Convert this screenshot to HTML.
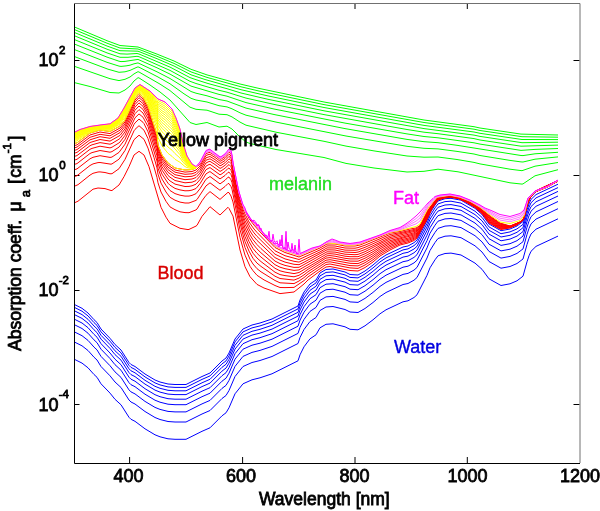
<!DOCTYPE html>
<html><head><meta charset="utf-8"><style>
html,body{margin:0;padding:0;background:#fff;}
body{width:600px;height:511px;overflow:hidden;position:relative;font-family:"Liberation Sans",sans-serif;}
svg{position:absolute;left:0;top:0;}
.t{position:absolute;white-space:nowrap;line-height:1;font-size:17px;color:#000;}
</style></head><body>
<svg width="600" height="511" viewBox="0 0 600 511">
<g fill="none" stroke="#000" stroke-width="1">
<path d="M129.6 463 v-6 M242.6 463 v-6 M355 463 v-6 M467.3 463 v-6 M129.6 3.5 v5.5 M242.6 3.5 v5.5 M355 3.5 v5.5 M467.3 3.5 v5.5"/>
<path d="M74 60.5 h5.5 M74 175.5 h5.5 M74 290.5 h5.5 M74 404.5 h5.5 M579.5 60.5 h-6 M579.5 175.5 h-6 M579.5 290.5 h-6 M579.5 404.5 h-6"/>
</g>
<g fill="none" stroke-width="1" stroke-linejoin="round">
<polyline points="74.0,359.1 82.0,363.1 88.0,367.8 94.0,374.5 97.0,377.3 101.0,383.8 110.0,393.1 115.0,399.3 121.0,404.8 129.0,417.3 131.0,419.3 135.0,421.3 145.0,428.8 155.0,434.8 160.0,436.8 168.0,438.8 175.0,439.3 186.0,439.3 202.0,431.3 210.0,427.8 222.0,415.8 226.0,412.8 229.0,407.8 235.0,393.8 243.0,383.8 252.0,379.8 260.0,377.8 272.0,373.8 298.0,360.8 300.0,354.8 304.0,346.8 310.0,338.8 316.0,334.8 320.0,327.8 326.0,324.3 333.0,323.8 345.0,326.8 350.0,329.3 358.0,329.8 365.0,325.8 373.0,319.8 380.0,313.8 386.0,309.8 403.0,301.8 408.0,300.8 414.0,297.5 417.0,294.8 427.0,275.3 430.0,267.8 435.0,259.8 438.0,255.8 445.0,253.5 451.0,253.1 461.0,255.0 475.0,263.1 482.0,269.3 489.0,278.8 501.0,285.5 510.0,283.8 517.0,280.8 523.0,276.2 527.0,261.8 529.0,255.8 531.0,251.3 536.0,246.4 558.0,236.1" stroke="#0000ff"/>
<polyline points="74.0,341.8 82.0,345.8 88.0,350.5 94.0,357.2 97.0,360.0 101.0,366.5 110.0,375.8 115.0,382.0 121.0,387.5 129.0,400.0 131.0,402.0 135.0,404.0 145.0,411.5 155.0,417.5 160.0,419.5 168.0,421.5 175.0,422.0 186.0,422.0 202.0,414.0 210.0,410.5 222.0,398.5 226.0,395.5 229.0,390.5 235.0,376.5 243.0,366.5 252.0,362.5 260.0,360.5 272.0,356.5 298.0,343.5 300.0,337.5 304.0,329.5 310.0,321.5 316.0,317.5 320.0,310.5 326.0,307.0 333.0,306.5 345.0,309.5 350.0,312.0 358.0,312.5 365.0,308.5 373.0,302.5 380.0,296.5 386.0,292.5 403.0,284.5 408.0,283.5 414.0,280.2 417.0,277.5 427.0,258.0 430.0,250.5 435.0,242.5 438.0,238.5 445.0,236.2 451.0,235.8 461.0,237.7 475.0,245.8 482.0,252.0 489.0,261.5 501.0,268.2 510.0,266.5 517.0,263.5 523.0,259.0 527.0,244.5 529.0,238.5 531.0,234.0 536.0,229.2 558.0,218.8" stroke="#0000ff"/>
<polyline points="74.0,331.7 82.0,335.7 88.0,340.4 94.0,347.1 97.0,349.9 101.0,356.4 110.0,365.7 115.0,371.9 121.0,377.4 129.0,389.9 131.0,391.9 135.0,393.9 145.0,401.4 155.0,407.4 160.0,409.4 168.0,411.4 175.0,411.9 186.0,411.9 202.0,403.9 210.0,400.4 222.0,388.4 226.0,385.4 229.0,380.4 235.0,366.4 243.0,356.4 252.0,352.4 260.0,350.4 272.0,346.4 298.0,333.4 300.0,327.4 304.0,319.4 310.0,311.4 316.0,307.4 320.0,300.4 326.0,296.9 333.0,296.4 345.0,299.4 350.0,301.9 358.0,302.4 365.0,298.4 373.0,292.4 380.0,286.4 386.0,282.4 403.0,274.4 408.0,273.4 414.0,270.1 417.0,267.4 427.0,247.9 430.0,240.4 435.0,232.4 438.0,228.4 445.0,226.1 451.0,225.7 461.0,227.6 475.0,235.7 482.0,241.9 489.0,251.4 501.0,258.1 510.0,256.4 517.0,253.4 523.0,248.9 527.0,234.4 529.0,228.4 531.0,223.9 536.0,219.1 558.0,208.7" stroke="#0000ff"/>
<polyline points="74.0,324.5 82.0,328.5 88.0,333.2 94.0,339.9 97.0,342.7 101.0,349.2 110.0,358.5 115.0,364.7 121.0,370.2 129.0,382.7 131.0,384.7 135.0,386.7 145.0,394.2 155.0,400.2 160.0,402.2 168.0,404.2 175.0,404.7 186.0,404.7 202.0,396.7 210.0,393.2 222.0,381.2 226.0,378.2 229.0,373.2 235.0,359.2 243.0,349.2 252.0,345.2 260.0,343.2 272.0,339.2 298.0,326.2 300.0,320.2 304.0,312.2 310.0,304.2 316.0,300.2 320.0,293.2 326.0,289.7 333.0,289.2 345.0,292.2 350.0,294.7 358.0,295.2 365.0,291.2 373.0,285.2 380.0,279.2 386.0,275.2 403.0,267.2 408.0,266.2 414.0,262.9 417.0,260.2 427.0,240.7 430.0,233.2 435.0,225.2 438.0,221.2 445.0,218.9 451.0,218.5 461.0,220.4 475.0,228.5 482.0,234.7 489.0,244.2 501.0,250.9 510.0,249.2 517.0,246.2 523.0,241.7 527.0,227.2 529.0,221.2 531.0,216.7 536.0,211.9 558.0,201.5" stroke="#0000ff"/>
<polyline points="74.0,319.0 82.0,323.0 88.0,327.7 94.0,334.4 97.0,337.2 101.0,343.7 110.0,353.0 115.0,359.2 121.0,364.7 129.0,377.2 131.0,379.2 135.0,381.2 145.0,388.7 155.0,394.7 160.0,396.7 168.0,398.7 175.0,399.2 186.0,399.2 202.0,391.2 210.0,387.7 222.0,375.7 226.0,372.7 229.0,367.7 235.0,353.7 243.0,343.7 252.0,339.7 260.0,337.7 272.0,333.7 298.0,320.7 300.0,314.7 304.0,306.7 310.0,298.7 316.0,294.7 320.0,287.7 326.0,284.2 333.0,283.7 345.0,286.7 350.0,289.2 358.0,289.7 365.0,285.7 373.0,279.7 380.0,273.7 386.0,269.7 403.0,261.7 408.0,260.7 414.0,257.4 417.0,254.7 427.0,235.2 430.0,227.7 435.0,219.7 438.0,215.7 445.0,213.4 451.0,213.0 461.0,214.9 475.0,223.0 482.0,229.2 489.0,238.7 501.0,245.4 510.0,243.7 517.0,240.7 523.0,236.1 527.0,221.7 529.0,215.7 531.0,211.2 536.0,206.3 558.0,196.0" stroke="#0000ff"/>
<polyline points="74.0,314.4 82.0,318.4 88.0,323.1 94.0,329.8 97.0,332.6 101.0,339.1 110.0,348.4 115.0,354.6 121.0,360.1 129.0,372.6 131.0,374.6 135.0,376.6 145.0,384.1 155.0,390.1 160.0,392.1 168.0,394.1 175.0,394.6 186.0,394.6 202.0,386.6 210.0,383.1 222.0,371.1 226.0,368.1 229.0,363.1 235.0,349.1 243.0,339.1 252.0,335.1 260.0,333.1 272.0,329.1 298.0,316.1 300.0,310.1 304.0,302.1 310.0,294.1 316.0,290.1 320.0,283.1 326.0,279.6 333.0,279.1 345.0,282.1 350.0,284.6 358.0,285.1 365.0,281.1 373.0,275.1 380.0,269.1 386.0,265.1 403.0,257.1 408.0,256.1 414.0,252.8 417.0,250.1 427.0,230.6 430.0,223.1 435.0,215.1 438.0,211.1 445.0,208.8 451.0,208.4 461.0,210.3 475.0,218.4 482.0,224.6 489.0,234.1 501.0,240.8 510.0,239.1 517.0,236.1 523.0,231.6 527.0,217.1 529.0,211.1 531.0,206.6 536.0,201.8 558.0,191.4" stroke="#0000ff"/>
<polyline points="74.0,310.6 82.0,314.6 88.0,319.3 94.0,326.0 97.0,328.8 101.0,335.3 110.0,344.6 115.0,350.8 121.0,356.3 129.0,368.8 131.0,370.8 135.0,372.8 145.0,380.3 155.0,386.3 160.0,388.3 168.0,390.3 175.0,390.8 186.0,390.8 202.0,382.8 210.0,379.3 222.0,367.3 226.0,364.3 229.0,359.3 235.0,345.3 243.0,335.3 252.0,331.3 260.0,329.3 272.0,325.3 298.0,312.3 300.0,306.3 304.0,298.3 310.0,290.3 316.0,286.3 320.0,279.3 326.0,275.8 333.0,275.3 345.0,278.3 350.0,280.8 358.0,281.3 365.0,277.3 373.0,271.3 380.0,265.3 386.0,261.3 403.0,253.3 408.0,252.3 414.0,249.0 417.0,246.3 427.0,226.8 430.0,219.3 435.0,211.3 438.0,207.3 445.0,205.0 451.0,204.6 461.0,206.5 475.0,214.6 482.0,220.8 489.0,230.3 501.0,237.0 510.0,235.3 517.0,232.3 523.0,227.7 527.0,213.3 529.0,207.3 531.0,202.8 536.0,197.9 558.0,187.6" stroke="#0000ff"/>
<polyline points="74.0,307.2 82.0,311.2 88.0,315.9 94.0,322.6 97.0,325.4 101.0,331.9 110.0,341.2 115.0,347.4 121.0,352.9 129.0,365.4 131.0,367.4 135.0,369.4 145.0,376.9 155.0,382.9 160.0,384.9 168.0,386.9 175.0,387.4 186.0,387.4 202.0,379.4 210.0,375.9 222.0,363.9 226.0,360.9 229.0,355.9 235.0,341.9 243.0,331.9 252.0,327.9 260.0,325.9 272.0,321.9 298.0,308.9 300.0,302.9 304.0,294.9 310.0,286.9 316.0,282.9 320.0,275.9 326.0,272.4 333.0,271.9 345.0,274.9 350.0,277.4 358.0,277.9 365.0,273.9 373.0,267.9 380.0,261.9 386.0,257.9 403.0,249.9 408.0,248.9 414.0,245.6 417.0,242.9 427.0,223.4 430.0,215.9 435.0,207.9 438.0,203.9 445.0,201.6 451.0,201.2 461.0,203.1 475.0,211.2 482.0,217.4 489.0,226.9 501.0,233.7 510.0,231.9 517.0,228.9 523.0,224.4 527.0,209.9 529.0,203.9 531.0,199.4 536.0,194.6 558.0,184.2" stroke="#0000ff"/>
<polyline points="74.0,304.3 82.0,308.3 88.0,313.0 94.0,319.7 97.0,322.5 101.0,329.0 110.0,338.3 115.0,344.5 121.0,350.0 129.0,362.5 131.0,364.5 135.0,366.5 145.0,374.0 155.0,380.0 160.0,382.0 168.0,384.0 175.0,384.5 186.0,384.5 202.0,376.5 210.0,373.0 222.0,361.0 226.0,358.0 229.0,353.0 235.0,339.0 243.0,329.0 252.0,325.0 260.0,323.0 272.0,319.0 298.0,306.0 300.0,300.0 304.0,292.0 310.0,284.0 316.0,280.0 320.0,273.0 326.0,269.5 333.0,269.0 345.0,272.0 350.0,274.5 358.0,275.0 365.0,271.0 373.0,265.0 380.0,259.0 386.0,255.0 403.0,247.0 408.0,246.0 414.0,242.7 417.0,240.0 427.0,220.5 430.0,213.0 435.0,205.0 438.0,201.0 445.0,198.7 451.0,198.3 461.0,200.2 475.0,208.3 482.0,214.5 489.0,224.0 501.0,230.7 510.0,229.0 517.0,226.0 523.0,221.5 527.0,207.0 529.0,201.0 531.0,196.5 536.0,191.7 558.0,181.3" stroke="#0000ff"/>
<polyline points="74.0,203.0 78.0,201.2 93.0,189.2 98.0,188.0 105.0,188.6 111.0,190.5 112.0,190.5 119.0,185.0 124.0,176.7 129.0,166.7 134.0,155.0 139.0,151.3 144.0,155.0 149.0,166.7 161.0,207.3 166.0,217.2 170.0,223.3 180.0,228.3 188.0,229.6 189.0,229.4 196.0,226.1 197.0,225.3 202.0,216.3 210.0,206.7 220.0,215.0 228.0,207.3 229.0,208.4 233.0,216.1 240.0,250.0 245.0,266.7 250.0,276.7 257.0,284.4 264.0,288.0 280.0,293.6 294.0,292.0 304.0,284.0 308.0,280.0 320.0,271.0 326.0,267.0 330.0,266.5 350.0,270.5 358.0,271.0 365.0,267.5 373.0,262.0 380.0,256.0 390.0,250.0 400.0,245.0 408.0,243.0 414.0,240.5 417.0,238.0 427.0,219.5 432.0,208.5 438.0,200.0 445.0,197.8 451.0,197.4 458.0,198.3 466.0,202.0 475.0,207.4 482.0,213.5 489.0,223.0 501.0,229.5 510.0,227.8 517.0,224.8 523.0,220.3 527.0,205.8 531.0,195.5 536.0,190.7 558.0,180.5" stroke="#ff0000"/>
<polyline points="74.0,186.4 78.0,184.7 90.0,175.1 93.0,173.3 98.0,172.0 100.0,171.9 105.0,172.5 110.0,173.8 112.0,173.7 119.0,168.7 125.0,159.4 134.0,139.7 139.0,135.2 144.0,139.3 148.0,148.1 154.0,167.0 157.0,177.5 158.0,182.8 161.0,192.0 166.0,201.3 170.0,206.9 175.0,209.7 180.0,211.8 185.0,212.6 189.0,212.7 196.0,209.9 197.0,209.0 202.0,200.8 206.0,195.3 210.0,191.6 220.0,199.4 228.0,192.3 229.0,192.7 231.0,196.0 233.0,202.0 240.0,237.5 243.0,248.2 245.0,255.1 250.0,266.3 253.0,270.7 257.0,275.3 264.0,279.9 275.0,285.5 280.0,287.5 285.0,287.6 294.0,287.4 304.0,280.6 308.0,276.9 326.0,264.5 330.0,264.0 350.0,267.9 358.0,268.4 365.0,265.0 373.0,259.8 380.0,254.2 390.0,248.4 400.0,243.8 408.0,241.8 414.0,239.4 417.0,237.0 427.0,218.8 432.0,208.2 437.0,201.1 438.0,199.8 445.0,197.7 451.0,197.3 458.0,198.2 466.0,201.9 475.0,207.2 482.0,213.1 489.0,222.3 500.0,228.7 501.0,229.0 510.0,227.6 517.0,224.7 523.0,220.2 527.0,205.7 529.0,199.9 531.0,195.6 535.0,191.4 558.0,180.5" stroke="#ff0000"/>
<polyline points="74.0,176.7 77.0,175.7 90.0,165.5 93.0,163.9 98.0,162.6 100.0,162.5 111.0,164.2 112.0,163.9 119.0,159.2 125.0,150.5 134.0,130.8 135.0,129.4 139.0,125.7 144.0,130.2 148.0,138.6 154.0,157.5 157.0,167.9 158.0,174.2 161.0,183.1 166.0,192.0 170.0,197.3 175.0,200.2 180.0,202.1 185.0,203.0 189.0,203.0 196.0,200.4 197.0,199.5 206.0,185.9 210.0,182.8 220.0,190.3 225.0,186.5 228.0,183.5 229.0,183.6 231.0,186.5 232.0,189.2 240.0,229.7 245.0,247.5 250.0,259.2 253.0,264.0 257.0,268.7 261.0,271.8 275.0,280.5 280.0,282.8 294.0,283.6 299.0,281.0 304.0,277.6 308.0,274.2 326.0,262.3 330.0,261.8 350.0,265.6 358.0,265.9 365.0,262.7 373.0,257.7 380.0,252.4 390.0,246.8 400.0,242.5 408.0,240.5 414.0,238.3 417.0,236.1 420.0,231.3 432.0,207.8 437.0,200.8 438.0,199.6 445.0,197.6 451.0,197.2 458.0,198.2 466.0,201.7 475.0,207.0 482.0,212.8 489.0,221.6 500.0,228.1 501.0,228.4 510.0,227.5 517.0,224.5 523.0,220.0 525.0,213.7 527.0,205.6 529.0,199.8 531.0,195.7 535.0,191.4 558.0,180.6" stroke="#ff0000"/>
<polyline points="74.0,169.9 77.0,168.9 90.0,158.8 93.0,157.3 100.0,155.7 110.0,157.4 111.0,157.3 112.0,157.0 119.0,152.4 125.0,144.2 134.0,124.4 135.0,122.9 139.0,119.1 143.0,122.3 144.0,123.6 148.0,131.8 157.0,161.1 158.0,168.2 161.0,176.7 162.0,179.0 166.0,185.5 170.0,190.5 175.0,193.6 180.0,195.2 185.0,196.1 189.0,196.1 192.0,195.4 196.0,193.7 200.0,188.7 206.0,179.2 210.0,176.5 220.0,183.9 225.0,180.3 228.0,177.2 229.0,177.1 231.0,179.8 232.0,182.7 239.0,219.2 243.0,234.9 245.0,241.5 249.0,251.1 253.0,258.3 257.0,263.1 261.0,266.4 275.0,276.2 280.0,278.5 294.0,280.1 299.0,278.1 304.0,274.9 308.0,271.7 326.0,260.2 330.0,259.7 350.0,263.3 358.0,263.6 365.0,260.5 373.0,255.7 380.0,250.7 390.0,245.3 400.0,241.3 408.0,239.3 414.0,237.2 417.0,235.1 420.0,230.7 432.0,207.5 437.0,200.5 438.0,199.4 445.0,197.5 451.0,197.1 458.0,198.1 466.0,201.6 475.0,206.7 480.0,210.7 482.0,212.4 489.0,220.9 500.0,227.6 501.0,227.8 510.0,227.3 517.0,224.4 523.0,219.9 524.0,217.4 527.0,205.4 529.0,199.7 531.0,195.8 535.0,191.5 547.0,186.1 558.0,180.6" stroke="#ff0000"/>
<polyline points="74.0,164.5 77.0,163.6 90.0,153.5 92.0,152.6 100.0,150.5 110.0,152.2 112.0,151.6 119.0,147.1 125.0,139.3 135.0,117.8 139.0,113.9 143.0,117.2 148.0,126.6 157.0,155.8 158.0,163.5 160.0,169.1 162.0,174.1 168.0,183.2 170.0,185.2 175.0,188.4 180.0,189.9 185.0,190.8 189.0,190.7 192.0,190.1 196.0,188.5 200.0,183.7 206.0,173.9 209.0,172.0 210.0,171.6 220.0,178.9 225.0,175.5 228.0,172.4 229.0,172.1 231.0,174.6 232.0,177.7 238.0,210.0 240.0,219.1 243.0,230.1 245.0,236.5 249.0,246.1 253.0,253.2 257.0,258.0 261.0,261.6 275.0,272.2 280.0,274.6 285.0,275.6 294.0,276.8 299.0,275.3 304.0,272.2 308.0,269.3 326.0,258.1 330.0,257.6 350.0,261.1 358.0,261.2 365.0,258.2 373.0,253.7 380.0,248.9 390.0,243.7 400.0,240.1 408.0,238.1 414.0,236.1 417.0,234.1 420.0,230.0 432.0,207.1 437.0,200.2 438.0,199.2 445.0,197.4 451.0,197.0 458.0,198.0 466.0,201.4 475.0,206.5 482.0,212.1 489.0,220.2 500.0,227.0 501.0,227.3 510.0,227.1 517.0,224.2 520.0,222.3 523.0,219.8 524.0,217.5 528.0,201.8 531.0,195.9 535.0,191.6 547.0,186.3 558.0,180.7" stroke="#ff0000"/>
<polyline points="74.0,160.2 77.0,159.3 90.0,149.3 92.0,148.4 100.0,146.2 110.0,147.9 112.0,147.2 119.0,142.9 120.0,142.0 125.0,135.3 135.0,113.7 139.0,109.6 143.0,113.0 148.0,122.3 157.0,151.4 158.0,159.6 162.0,170.1 168.0,179.0 170.0,180.9 175.0,184.1 185.0,186.5 189.0,186.4 192.0,185.8 196.0,184.2 200.0,179.6 206.0,169.7 209.0,168.0 210.0,167.6 220.0,174.8 221.0,174.4 225.0,171.5 228.0,168.4 229.0,168.0 231.0,170.3 232.0,173.5 238.0,206.2 243.0,225.9 245.0,232.1 249.0,241.5 253.0,248.5 257.0,253.3 261.0,257.1 275.0,268.3 280.0,270.8 285.0,272.1 294.0,273.6 299.0,272.5 327.0,255.8 330.0,255.6 335.0,256.2 345.0,258.3 350.0,258.9 358.0,258.9 365.0,256.0 373.0,251.7 380.0,247.2 390.0,242.2 400.0,238.9 414.0,235.0 417.0,233.2 420.0,229.4 432.0,206.8 437.0,199.9 438.0,199.0 445.0,197.3 450.0,196.8 458.0,198.0 466.0,201.3 475.0,206.3 482.0,211.7 489.0,219.5 500.0,226.4 510.0,227.0 517.0,224.1 520.0,222.3 523.0,219.7 524.0,217.5 528.0,201.6 531.0,196.0 535.0,191.6 547.0,186.4 558.0,180.7" stroke="#ff0000"/>
<polyline points="74.0,156.5 77.0,155.6 90.0,145.7 92.0,144.8 100.0,142.6 110.0,144.2 112.0,143.4 119.0,139.2 120.0,138.4 125.0,131.9 135.0,110.2 139.0,106.0 143.0,109.4 148.0,118.7 157.0,147.8 158.0,156.4 162.0,166.8 168.0,175.4 170.0,177.2 175.0,180.5 185.0,182.8 192.0,182.2 196.0,180.6 197.0,179.6 200.0,176.1 206.0,166.1 209.0,164.5 210.0,164.3 220.0,171.3 221.0,171.0 225.0,168.2 229.0,164.5 231.0,166.7 232.0,170.0 238.0,202.9 243.0,222.0 245.0,228.0 249.0,237.2 253.0,244.0 257.0,248.9 261.0,252.8 275.0,264.7 280.0,267.2 285.0,268.7 294.0,270.4 299.0,269.9 327.0,253.8 330.0,253.7 335.0,254.1 345.0,256.2 350.0,256.7 358.0,256.7 365.0,253.8 373.0,249.7 380.0,245.5 390.0,240.7 414.0,233.9 416.0,232.9 420.0,228.7 428.0,213.3 432.0,206.4 437.0,199.6 438.0,198.8 445.0,197.2 450.0,196.7 458.0,197.9 466.0,201.1 475.0,206.1 480.0,209.7 489.0,218.7 500.0,225.8 510.0,226.8 517.0,223.9 520.0,222.2 523.0,219.6 524.0,217.6 528.0,201.3 531.0,196.1 535.0,191.7 547.0,186.6 558.0,180.8" stroke="#ff0000"/>
<polyline points="74.0,153.3 77.0,152.4 90.0,142.5 100.0,139.5 110.0,141.1 120.0,135.4 125.0,128.9 135.0,107.2 139.0,102.9 143.0,106.3 148.0,115.5 157.0,144.6 158.0,153.6 162.0,163.9 168.0,172.3 175.0,177.4 185.0,179.7 192.0,179.0 196.0,177.5 197.0,176.5 200.0,173.1 206.0,163.0 209.0,161.5 210.0,161.4 215.0,164.5 220.0,168.3 221.0,168.1 225.0,165.3 229.0,161.5 231.0,163.6 232.0,167.0 238.0,199.9 242.0,215.2 245.0,224.2 250.0,235.0 253.0,239.7 257.0,244.6 261.0,248.6 275.0,261.1 280.0,263.6 285.0,265.4 294.0,267.4 299.0,267.3 327.0,251.8 335.0,252.1 345.0,254.2 355.0,254.7 358.0,254.4 365.0,251.7 380.0,243.8 390.0,239.1 414.0,232.8 416.0,231.9 420.0,228.1 428.0,212.7 432.0,206.1 437.0,199.2 438.0,198.6 445.0,197.1 450.0,196.5 458.0,197.9 466.0,201.0 470.0,202.9 480.0,209.4 489.0,218.0 500.0,225.3 510.0,226.7 520.0,222.2 523.0,219.5 524.0,217.7 528.0,201.1 531.0,196.2 535.0,191.8 547.0,186.7 558.0,180.8" stroke="#ff0000"/>
<polyline points="74.0,150.5 77.0,149.6 90.0,139.8 100.0,136.7 110.0,138.3 120.0,132.6 125.0,126.3 135.0,104.5 139.0,100.2 143.0,103.6 148.0,112.8 157.0,141.8 158.0,151.1 162.0,161.3 168.0,169.6 175.0,174.7 185.0,176.8 192.0,176.3 196.0,174.7 200.0,170.5 206.0,160.2 210.0,158.8 215.0,161.9 220.0,165.7 221.0,165.5 225.0,162.8 229.0,158.8 230.0,159.5 231.0,160.9 232.0,164.3 238.0,197.1 240.0,205.0 243.0,215.3 245.0,220.7 250.0,231.0 253.0,235.6 257.0,240.4 275.0,257.6 280.0,260.1 285.0,262.1 294.0,264.3 298.0,264.6 299.0,264.7 304.0,262.2 327.0,249.8 335.0,250.0 345.0,252.1 355.0,252.5 358.0,252.1 365.0,249.5 390.0,237.6 416.0,231.0 420.0,227.4 428.0,212.0 432.0,205.7 437.0,198.9 438.0,198.4 445.0,197.1 451.0,196.5 460.0,198.3 466.0,200.8 470.0,202.7 480.0,209.0 489.0,217.3 500.0,224.7 510.0,226.5 520.0,222.1 523.0,219.3 524.0,217.8 528.0,200.8 531.0,196.3 535.0,191.8 547.0,186.9 558.0,180.9" stroke="#ff0000"/>
<polyline points="74.0,148.0 77.0,147.1 90.0,137.3 100.0,134.3 110.0,135.8 120.0,130.2 125.0,124.0 135.0,102.1 139.0,97.7 143.0,101.2 148.0,110.3 157.0,139.3 158.0,148.8 162.0,159.0 168.0,167.2 175.0,172.2 185.0,174.3 192.0,173.8 196.0,172.3 200.0,168.1 206.0,157.8 210.0,156.5 215.0,159.6 220.0,163.3 221.0,163.1 225.0,160.5 229.0,156.4 230.0,157.1 231.0,158.4 232.0,161.9 238.0,194.6 240.0,202.1 243.0,212.2 245.0,217.3 250.0,227.2 254.0,232.9 257.0,236.4 275.0,254.2 285.0,258.9 294.0,261.3 299.0,262.1 320.0,251.9 327.0,247.9 335.0,248.0 345.0,250.1 355.0,250.3 358.0,249.9 365.0,247.3 390.0,236.1 416.0,230.0 420.0,226.8 428.0,211.3 437.0,198.6 445.0,197.0 450.0,196.3 458.0,197.7 460.0,198.2 470.0,202.4 480.0,208.7 489.0,216.6 500.0,224.1 510.0,226.3 520.0,222.1 523.0,219.2 524.0,217.8 528.0,200.5 531.0,196.4 535.0,191.9 547.0,187.0 558.0,180.9" stroke="#ff0000"/>
<polyline points="74.0,145.7 77.0,144.9 90.0,135.0 100.0,132.0 110.0,133.6 120.0,128.0 125.0,121.9 135.0,100.0 139.0,95.5 143.0,99.0 148.0,108.0 157.0,137.1 158.0,146.8 162.0,156.9 168.0,165.0 175.0,170.0 185.0,172.1 192.0,171.5 196.0,170.0 200.0,166.0 206.0,155.5 209.0,154.4 210.0,154.4 215.0,157.4 220.0,161.2 221.0,161.0 225.0,158.4 229.0,154.3 230.0,154.9 231.0,156.2 232.0,159.8 235.0,176.9 239.0,196.0 243.0,209.2 245.0,214.1 249.0,222.0 254.0,229.0 257.0,232.4 275.0,250.8 285.0,255.7 299.0,259.5 320.0,249.9 327.0,245.9 335.0,246.0 345.0,248.0 355.0,248.2 358.0,247.6 365.0,245.2 390.0,234.5 400.0,232.7 416.0,229.0 420.0,226.1 428.0,210.7 437.0,198.3 445.0,196.9 450.0,196.1 458.0,197.7 460.0,198.1 470.0,202.2 480.0,208.3 490.0,216.7 500.0,223.6 510.0,226.2 520.0,222.0 524.0,217.9 528.0,200.3 535.0,191.9 547.0,187.2 558.0,181.0" stroke="#ff0000"/>
<polyline points="74.0,143.6 77.0,142.8 90.0,133.0 100.0,130.0 110.0,131.5 120.0,126.0 125.0,120.0 135.0,98.0 139.0,93.5 143.0,97.0 148.0,106.0 157.0,135.0 158.0,145.0 162.0,155.0 168.0,163.0 175.0,168.0 185.0,170.0 192.0,169.5 196.0,168.0 200.0,164.0 206.0,153.5 209.0,152.5 210.0,152.5 215.0,155.5 220.0,159.2 221.0,159.1 225.0,156.6 229.0,152.3 230.0,152.9 231.0,154.1 232.0,157.8 235.0,174.9 239.0,193.6 243.0,206.4 249.0,218.5 254.0,225.1 261.0,233.0 275.0,247.5 285.0,252.5 299.0,257.0 320.0,248.0 327.0,244.0 335.0,244.0 345.0,246.0 355.0,246.0 360.0,245.0 390.0,233.0 400.0,231.5 410.0,229.0 416.0,228.0 420.0,225.5 428.0,210.0 437.0,198.0 450.0,196.0 460.0,198.0 470.0,202.0 480.0,208.0 490.0,216.0 500.0,223.0 510.0,226.0 520.0,222.0 524.0,218.0 528.0,200.0 535.0,192.0 547.0,187.3 558.0,181.0" stroke="#ff0000"/>
<polyline points="74.0,143.6 77.0,142.8 90.0,133.0 100.0,130.0 110.0,131.5 120.0,126.0 125.0,120.0 135.0,98.0 139.0,93.5 143.0,97.0 148.0,106.0 157.0,135.0 158.0,145.0 162.0,155.0 168.0,163.0 175.0,168.0 185.0,170.0 192.0,169.5 196.0,168.0 197.0,167.0" stroke="#ffff00"/>
<polyline points="74.0,141.7 77.0,140.8 90.0,131.9 100.0,129.2 110.0,130.2 120.0,124.1 125.0,117.7 135.0,96.3 139.0,92.1 143.0,95.2 148.0,103.3 157.0,128.8 158.0,137.3 162.0,145.9 168.0,153.3 172.0,156.3 175.0,159.3 180.0,162.3 185.0,166.6 187.0,167.5 192.0,168.6 196.0,167.9 197.0,166.9" stroke="#ffff00"/>
<polyline points="74.0,140.5 77.0,139.6 90.0,131.2 100.0,128.6 110.0,129.4 118.0,124.6 120.0,122.9 125.0,116.2 135.0,95.2 139.0,91.2 143.0,94.1 148.0,101.5 157.0,124.8 158.0,132.3 162.0,140.1 168.0,147.0 172.0,150.2 175.0,153.6 180.0,158.0 183.0,162.3 187.0,166.0 192.0,168.0 196.0,167.9 197.0,166.9" stroke="#ffff00"/>
<polyline points="74.0,139.6 77.0,138.6 90.0,130.7 100.0,128.2 110.0,128.7 118.0,123.8 120.0,121.9 125.0,115.0 135.0,94.4 139.0,90.5 140.0,90.8 143.0,93.2 148.0,100.2 157.0,121.7 158.0,128.5 162.0,135.5 168.0,142.2 172.0,145.5 180.0,154.7 183.0,160.1 187.0,164.9 192.0,167.5 196.0,167.8 197.0,166.8" stroke="#ffff00"/>
<polyline points="74.0,138.8 77.0,137.7 90.0,130.2 100.0,127.9 110.0,128.2 118.0,123.2 120.0,121.1 125.0,114.1 135.0,93.7 139.0,89.9 140.0,90.1 143.0,92.5 148.0,99.0 157.0,119.2 158.0,125.3 162.0,131.8 165.0,134.6 168.0,138.2 172.0,141.5 180.0,151.9 183.0,158.2 187.0,163.9 192.0,167.1 196.0,167.8 197.0,166.8" stroke="#ffff00"/>
<polyline points="74.0,138.2 77.0,137.0 90.0,129.8 100.0,127.6 110.0,127.7 118.0,122.6 120.0,120.5 125.0,113.2 135.0,93.1 139.0,89.4 140.0,89.5 143.0,91.9 148.0,98.0 157.0,116.9 158.0,122.5 162.0,128.4 165.0,131.1 168.0,134.6 172.0,138.0 180.0,149.4 183.0,156.6 187.0,163.1 192.0,166.8 196.0,167.8 197.0,166.8" stroke="#ffff00"/>
<polyline points="74.0,137.5 77.0,136.4 90.0,129.5 100.0,127.3 110.0,127.3 118.0,122.1 120.0,119.8 125.0,112.5 135.0,92.5 139.0,89.0 140.0,89.0 143.0,91.3 148.0,97.1 157.0,114.8 158.0,119.9 162.0,125.4 172.0,134.9 180.0,147.2 183.0,155.1 187.0,162.3 192.0,166.5 196.0,167.7 197.0,166.8" stroke="#ffff00"/>
<polyline points="74.0,137.0 90.0,129.1 100.0,127.0 110.0,126.9 118.0,121.7 125.0,111.8 135.0,92.0 139.0,88.6 140.0,88.5 143.0,90.7 148.0,96.3 150.0,99.5 157.0,112.9 158.0,117.6 162.0,122.6 165.0,125.0 168.0,128.4 172.0,131.9 180.0,145.1 183.0,153.7 187.0,161.6 192.0,166.2 196.0,167.7 197.0,166.7" stroke="#ffff00"/>
<polyline points="74.0,136.4 90.0,128.8 100.0,126.8 110.0,126.5 118.0,121.2 125.0,111.1 135.0,91.6 139.0,88.2 140.0,88.0 143.0,90.2 148.0,95.5 150.0,98.5 157.0,111.2 158.0,115.4 162.0,120.0 165.0,122.3 168.0,125.6 172.0,129.2 180.0,143.2 183.0,152.5 187.0,160.9 192.0,166.0 196.0,167.7 197.0,166.7" stroke="#ffff00"/>
<polyline points="74.0,135.9 90.0,128.5 100.0,126.6 110.0,126.2 118.0,120.8 125.0,110.5 135.0,91.1 139.0,87.8 140.0,87.6 143.0,89.8 148.0,94.8 150.0,97.5 157.0,109.5 158.0,113.3 162.0,117.6 165.0,119.7 172.0,126.6 180.0,141.4 183.0,151.3 187.0,160.3 192.0,165.7 196.0,167.7 197.0,166.7" stroke="#ffff00"/>
<polyline points="74.0,135.5 80.0,132.4 90.0,128.2 100.0,126.3 110.0,125.9 118.0,120.4 125.0,109.9 135.0,90.7 139.0,87.4 140.0,87.1 143.0,89.3 148.0,94.1 150.0,96.6 157.0,107.9 158.0,111.3 162.0,115.2 165.0,117.2 172.0,124.2 180.0,139.7 183.0,150.1 187.0,159.7 192.0,165.5 196.0,167.6 197.0,166.7" stroke="#ffff00"/>
<polyline points="74.0,135.0 80.0,132.0 90.0,128.0 100.0,126.1 110.0,125.5 118.0,120.1 125.0,109.3 135.0,90.3 139.0,87.1 140.0,86.7 143.0,88.9 148.0,93.4 150.0,95.7 157.0,106.3 158.0,109.4 162.0,112.9 165.0,114.8 172.0,121.8 176.0,129.3 180.0,138.0 183.0,149.0 187.0,159.1 192.0,165.2 196.0,167.6 197.0,166.7" stroke="#ffff00"/>
<polyline points="74.0,134.6 80.0,131.5 90.0,127.7 100.0,125.9 110.0,125.2 118.0,119.7 125.0,108.7 135.0,89.9 140.0,86.3 143.0,88.4 150.0,94.9 157.0,104.9 158.0,107.5 162.0,110.8 165.0,112.6 172.0,119.5 176.0,127.3 180.0,136.4 183.0,147.9 187.0,158.6 192.0,165.0 196.0,167.6 197.0,166.7" stroke="#ffff00"/>
<polyline points="74.0,134.1 80.0,131.1 90.0,127.5 100.0,125.7 110.0,124.9 118.0,119.3 125.0,108.2 135.0,89.5 140.0,85.9 143.0,88.0 150.0,94.1 157.0,103.4 158.0,105.7 165.0,110.3 172.0,117.3 176.0,125.3 180.0,134.9 183.0,146.9 187.0,158.0 192.0,164.8 196.0,167.6 197.0,166.6" stroke="#ffff00"/>
<polyline points="74.0,133.7 80.0,130.7 90.0,127.2 100.0,125.5 110.0,124.6 118.0,119.0 124.0,109.4 135.0,89.1 140.0,85.6 150.0,93.3 157.0,102.0 158.0,104.0 165.0,108.2 172.0,115.2 176.0,123.4 180.0,133.3 183.0,145.9 187.0,157.5 192.0,164.6 196.0,167.6 197.0,166.6" stroke="#ffff00"/>
<polyline points="74.0,133.3 80.0,130.3 90.0,127.0 100.0,125.4 110.0,124.4 118.0,118.7 124.0,108.9 135.0,88.7 140.0,85.2 150.0,92.5 157.0,100.6 158.0,102.3 165.0,106.1 172.0,113.1 176.0,121.6 180.0,131.9 183.0,144.9 187.0,157.0 192.0,164.4 196.0,167.5 197.0,166.6" stroke="#ffff00"/>
<polyline points="74.0,132.9 80.0,129.9 90.0,126.7 110.0,124.1 118.0,118.3 124.0,108.5 135.0,88.4 140.0,84.8 150.0,91.7 158.0,100.6 165.0,104.0 172.0,111.0 176.0,119.8 180.0,130.4 183.0,143.9 187.0,156.5 192.0,164.2 196.0,167.5 197.0,166.6" stroke="#ffff00"/>
<polyline points="74.0,132.5 80.0,129.5 90.0,126.5 110.0,123.8 118.0,118.0 124.0,108.0 135.0,88.0 140.0,84.5 150.0,91.0 158.0,99.0 165.0,102.0 172.0,109.0 176.0,118.0 180.0,129.0 183.0,143.0 187.0,156.0 192.0,164.0 196.0,167.5 197.0,166.6" stroke="#ffff00"/>
<polyline points="250.0,217.9 255.0,224.8 275.0,246.0 285.0,251.0 299.0,255.5 320.0,246.5 327.0,242.5 345.0,245.0 355.0,245.0 360.0,244.0 380.0,236.0 390.0,232.5 400.0,230.5 416.0,226.5 420.0,224.0 428.0,208.0 437.0,197.3 450.0,195.3 460.0,197.3 470.0,201.3 480.0,207.3 490.0,215.0 500.0,222.0 510.0,223.5 520.0,220.5 524.0,216.0 528.0,199.0 535.0,191.5 547.0,187.0 558.0,180.7" stroke="#ffff00"/>
<polyline points="196.0,167.2 200.0,163.4 206.0,152.6 209.0,151.5 210.0,151.6 220.0,158.5 221.0,158.4 225.0,155.7 229.0,151.3 230.0,151.8 231.0,153.1 232.0,156.9 233.0,164.0 239.0,193.0 243.0,205.8 245.0,210.2 249.0,216.7 254.0,223.3 265.0,235.6 275.0,245.5 285.0,250.5 299.0,255.1 320.0,246.4 327.0,242.2 332.0,242.1 345.0,244.4 355.0,244.4 360.0,243.5 390.0,232.0 400.0,229.8 416.0,223.9 420.0,221.0 428.0,206.8 437.0,197.0 440.0,196.4 450.0,195.0 460.0,197.0 470.0,201.0 480.0,206.7 489.0,213.1 500.0,220.1 510.0,221.8 520.0,218.8 524.0,214.5 528.0,198.8 535.0,191.4 547.0,186.9 558.0,180.5" stroke="#ff77ff"/>
<polyline points="196.0,167.0 200.0,162.9 206.0,151.9 209.0,150.8 210.0,150.8 220.0,157.9 221.0,157.8 225.0,155.1 229.0,150.5 230.0,151.0 231.0,152.3 232.0,156.3 233.0,163.6 239.0,192.6 243.0,205.4 245.0,209.8 249.0,217.0 254.0,223.0 261.0,230.4 265.0,235.8 275.0,245.0 285.0,250.0 299.0,254.8 312.0,249.1 320.0,246.2 327.0,242.0 332.0,241.1 340.0,243.1 350.0,244.2 360.0,243.0 390.0,231.5 400.0,229.0 410.0,224.5 416.0,221.2 420.0,218.0 428.0,205.5 435.0,198.1 437.0,196.6 440.0,195.9 450.0,194.7 460.0,196.7 470.0,200.7 480.0,206.2 485.0,209.6 500.0,218.2 510.0,220.0 520.0,217.0 524.0,213.0 528.0,198.5 535.0,191.2 547.0,186.8 558.0,180.3" stroke="#ff77ff"/>
<polyline points="196.0,166.8 200.0,162.4 206.0,151.2 209.0,150.0 210.0,150.1 220.0,157.4 221.0,157.2 225.0,154.5 229.0,149.6 230.0,150.1 231.0,151.4 232.0,155.7 233.0,163.2 239.0,192.2 243.0,205.1 249.0,217.2 261.0,229.9 265.0,235.9 275.0,244.5 285.0,249.5 299.0,254.4 312.0,248.5 320.0,246.1 327.0,241.8 332.0,240.0 340.0,242.6 350.0,243.9 360.0,242.5 380.0,235.2 390.0,231.0 400.0,228.2 410.0,222.8 416.0,218.6 420.0,215.0 428.0,204.2 435.0,197.3 437.0,196.2 440.0,195.5 450.0,194.3 460.0,196.3 470.0,200.3 480.0,205.6 485.0,208.8 500.0,216.4 510.0,218.2 520.0,215.2 524.0,211.5 528.0,198.2 535.0,191.1 547.0,186.6 558.0,180.2" stroke="#ff77ff"/>
<polyline points="74.0,132.5 75.0,132.0 76.0,131.5 77.0,131.0 78.0,130.5 79.0,130.0 80.0,129.5 81.0,129.2 82.0,128.9 83.0,128.6 84.0,128.3 85.0,128.0 86.0,127.7 87.0,127.4 88.0,127.1 89.0,126.8 90.0,126.5 91.0,126.3 92.0,126.2 93.0,126.0 94.0,125.9 95.0,125.8 96.0,125.6 97.0,125.5 98.0,125.3 99.0,125.2 100.0,125.0 101.0,124.9 102.0,124.8 103.0,124.6 104.0,124.5 105.0,124.4 106.0,124.3 107.0,124.2 108.0,124.0 109.0,123.9 110.0,123.8 111.0,123.1 112.0,122.3 113.0,121.6 114.0,120.9 115.0,120.2 116.0,119.5 117.0,118.7 118.0,118.0 119.0,116.3 120.0,114.7 121.0,113.0 122.0,111.3 123.0,109.7 124.0,108.0 125.0,106.2 126.0,104.3 127.0,102.5 128.0,100.7 129.0,98.8 130.0,97.0 131.0,95.2 132.0,93.4 133.0,91.6 134.0,89.8 135.0,88.0 136.0,87.3 137.0,86.6 138.0,85.9 139.0,85.2 140.0,84.5 141.0,85.2 142.0,85.8 143.0,86.5 144.0,87.2 145.0,87.8 146.0,88.5 147.0,89.1 148.0,89.8 149.0,90.4 150.0,91.0 151.0,92.0 152.0,93.0 153.0,94.0 154.0,95.0 155.0,96.0 156.0,97.0 157.0,98.0 158.0,99.0 159.0,99.4 160.0,99.9 161.0,100.3 162.0,100.7 163.0,101.1 164.0,101.6 165.0,102.0 166.0,103.0 167.0,104.0 168.0,105.0 169.0,106.0 170.0,107.0 171.0,108.0 172.0,109.0 173.0,111.2 174.0,113.5 175.0,115.8 176.0,118.0 177.0,120.8 178.0,123.5 179.0,126.2 180.0,129.0 181.0,133.7 182.0,138.3 183.0,143.0 184.0,146.2 185.0,149.5 186.0,152.8 187.0,156.0 188.0,157.6 189.0,159.2 190.0,160.8 191.0,162.4 192.0,164.0 193.0,164.6 194.0,165.2 195.0,165.9 196.0,166.5 197.0,165.4 198.0,164.2 199.0,163.1 200.0,162.0 201.0,160.1 202.0,158.2 203.0,156.2 204.0,154.3 205.0,152.4 206.0,150.5 207.0,150.1 208.0,149.7 209.0,149.2 210.0,149.3 211.0,150.1 212.0,150.9 213.0,151.6 214.0,152.4 215.0,153.2 216.0,153.9 217.0,154.6 218.0,155.4 219.0,156.1 220.0,156.8 221.0,156.7 222.0,156.0 223.0,155.3 224.0,154.6 225.0,153.9 226.0,152.6 227.0,151.4 228.0,150.1 229.0,148.8 230.0,149.3 231.0,150.6 232.0,155.0 233.0,162.7 234.0,167.8 235.0,172.9 236.0,177.9 237.0,183.0 238.0,188.1 239.0,191.8 240.0,195.1 241.0,198.5 242.0,201.8 243.0,204.7 244.0,206.2 245.0,208.1 246.0,211.3 247.0,213.0 248.0,214.4 249.0,216.0 250.0,218.7 251.0,219.5 252.0,220.8 253.0,221.0 254.0,222.8 255.0,222.9 256.0,223.0 257.0,225.6 258.0,224.8 259.0,226.2 260.0,229.7 261.0,230.0 262.0,231.3 263.0,232.3 264.0,233.3 265.0,234.4 266.0,236.3 267.0,238.4 268.0,237.4 269.0,231.3 270.0,240.1 271.0,241.3 272.0,241.4 273.0,234.2 274.0,240.3 275.0,242.5 276.0,241.9 277.0,240.8 278.0,245.3 279.0,247.1 280.0,239.6 281.0,246.0 282.0,235.0 283.0,248.5 284.0,248.2 285.0,248.4 286.0,231.3 287.0,249.9 288.0,242.0 289.0,248.1 290.0,249.6 291.0,251.4 292.0,243.3 293.0,251.3 294.0,252.8 295.0,245.0 296.0,252.1 297.0,254.4 298.0,253.0 299.0,239.2 300.0,253.5 301.0,253.1 302.0,252.6 303.0,252.2 304.0,251.7 305.0,251.2 306.0,250.8 307.0,250.3 308.0,249.8 309.0,249.4 310.0,248.9 311.0,248.5 312.0,248.0 313.0,247.8 314.0,247.5 315.0,247.2 316.0,247.0 317.0,246.8 318.0,246.5 319.0,246.2 320.0,246.0 321.0,245.4 322.0,244.7 323.0,244.1 324.0,243.4 325.0,242.8 326.0,242.1 327.0,241.5 328.0,241.0 329.0,240.5 330.0,240.0 331.0,239.5 332.0,239.0 333.0,239.3 334.0,239.7 335.0,240.0 336.0,240.4 337.0,240.8 338.0,241.2 339.0,241.6 340.0,242.0 341.0,242.2 342.0,242.3 343.0,242.4 344.0,242.6 345.0,242.8 346.0,242.9 347.0,243.1 348.0,243.2 349.0,243.3 350.0,243.5 351.0,243.3 352.0,243.2 353.0,243.1 354.0,242.9 355.0,242.8 356.0,242.6 357.0,242.4 358.0,242.3 359.0,242.2 360.0,242.0 361.0,241.7 362.0,241.3 363.0,240.9 364.0,240.6 365.0,240.2 366.0,239.9 367.0,239.6 368.0,239.2 369.0,238.8 370.0,238.5 371.0,238.2 372.0,237.8 373.0,237.4 374.0,237.1 375.0,236.8 376.0,236.4 377.0,236.1 378.0,235.7 379.0,235.3 380.0,235.0 381.0,234.6 382.0,234.1 383.0,233.7 384.0,233.2 385.0,232.8 386.0,232.3 387.0,231.8 388.0,231.4 389.0,230.9 390.0,230.5 391.0,230.2 392.0,229.9 393.0,229.6 394.0,229.3 395.0,229.0 396.0,228.7 397.0,228.4 398.0,228.1 399.0,227.8 400.0,227.5 401.0,226.9 402.0,226.3 403.0,225.7 404.0,225.1 405.0,224.5 406.0,223.8 407.0,223.1 408.0,222.4 409.0,221.7 410.0,221.0 411.0,220.2 412.0,219.3 413.0,218.5 414.0,217.7 415.0,216.8 416.0,216.0 417.0,215.0 418.0,214.0 419.0,213.0 420.0,212.0 421.0,210.9 422.0,209.8 423.0,208.6 424.0,207.5 425.0,206.4 426.0,205.2 427.0,204.1 428.0,203.0 429.0,202.1 430.0,201.1 431.0,200.2 432.0,199.3 433.0,198.4 434.0,197.4 435.0,196.5 436.0,196.2 437.0,195.9 438.0,195.6 439.0,195.3 440.0,195.0 441.0,194.9 442.0,194.8 443.0,194.7 444.0,194.6 445.0,194.5 446.0,194.4 447.0,194.3 448.0,194.2 449.0,194.1 450.0,194.0 451.0,194.2 452.0,194.4 453.0,194.6 454.0,194.8 455.0,195.0 456.0,195.2 457.0,195.4 458.0,195.6 459.0,195.8 460.0,196.0 461.0,196.4 462.0,196.8 463.0,197.2 464.0,197.6 465.0,198.0 466.0,198.4 467.0,198.8 468.0,199.2 469.0,199.6 470.0,200.0 471.0,200.5 472.0,201.0 473.0,201.5 474.0,202.0 475.0,202.5 476.0,203.0 477.0,203.5 478.0,204.0 479.0,204.5 480.0,205.0 481.0,205.6 482.0,206.2 483.0,206.8 484.0,207.4 485.0,208.0 486.0,208.4 487.0,208.8 488.0,209.2 489.0,209.6 490.0,210.0 491.0,210.4 492.0,210.9 493.0,211.3 494.0,211.8 495.0,212.2 496.0,212.7 497.0,213.2 498.0,213.6 499.0,214.1 500.0,214.5 501.0,214.7 502.0,214.9 503.0,215.1 504.0,215.3 505.0,215.5 506.0,215.7 507.0,215.9 508.0,216.1 509.0,216.3 510.0,216.5 511.0,216.2 512.0,215.9 513.0,215.6 514.0,215.3 515.0,215.0 516.0,214.7 517.0,214.4 518.0,214.1 519.0,213.8 520.0,213.5 521.0,212.6 522.0,211.8 523.0,210.9 524.0,210.0 525.0,207.0 526.0,204.0 527.0,201.0 528.0,198.0 529.0,197.0 530.0,196.0 531.0,195.0 532.0,194.0 533.0,193.0 534.0,192.0 535.0,191.0 536.0,190.6 537.0,190.3 538.0,189.9 539.0,189.5 540.0,189.2 541.0,188.8 542.0,188.4 543.0,188.1 544.0,187.7 545.0,187.3 546.0,187.0 547.0,186.5 548.0,185.9 549.0,185.3 550.0,184.7 551.0,184.2 552.0,183.6 553.0,183.0 554.0,182.4 555.0,181.8 556.0,181.2 557.0,180.6 558.0,180.0" stroke="#ff00ff"/>
<polyline points="246.0,211.8 247.0,214.6 248.0,215.3 249.0,216.0 250.0,218.0 251.0,218.8 252.0,221.4 253.0,220.7 254.0,220.1 255.0,221.4 256.0,222.8 257.0,226.0 258.0,224.2 259.0,225.3 260.0,228.7 261.0,228.1 262.0,231.9 263.0,233.2 264.0,234.2 265.0,236.4 266.0,235.1 267.0,235.7 268.0,238.2 269.0,239.1 270.0,240.6 271.0,241.5 272.0,240.1 273.0,241.3 274.0,244.0 275.0,243.3 276.0,244.1 277.0,243.0 278.0,244.0 279.0,244.9 280.0,245.6 281.0,244.7 282.0,245.0 283.0,247.8 284.0,248.7 285.0,247.2 286.0,250.1 287.0,249.4 288.0,250.8 289.0,250.3 290.0,251.5 291.0,251.1 292.0,249.7 293.0,249.7 294.0,250.4 295.0,251.6 296.0,251.8 297.0,253.0 298.0,254.1 299.0,253.5" stroke="#ff00ff"/>
<polyline points="74.0,82.5 90.0,86.5 110.0,92.5 119.0,93.0 125.0,90.0 130.0,86.0 134.0,81.0 138.0,77.7 139.0,77.9 150.0,85.0 160.0,92.0 170.0,100.0 190.0,122.5 196.0,124.5 207.0,122.5 219.0,127.0 227.0,126.2 232.0,129.0 240.0,137.0 246.0,142.0 250.0,143.5 276.0,149.5 324.0,157.5 346.0,163.4 374.0,168.0 407.0,172.0 424.0,171.3 438.0,169.2 458.0,171.8 510.0,182.8 522.0,184.1 523.0,183.9 535.0,175.8 558.0,169.7" stroke="#00ff00"/>
<polyline points="74.0,66.2 110.0,78.7 119.0,80.6 125.0,79.3 130.0,77.0 134.0,73.9 137.0,72.2 138.0,71.7 139.0,72.0 160.0,84.1 170.0,90.6 190.0,107.2 196.0,109.3 207.0,110.2 219.0,114.2 227.0,114.7 232.0,116.9 240.0,122.1 246.0,125.2 277.0,132.4 324.0,141.3 346.0,146.1 374.0,150.9 407.0,156.0 424.0,157.2 438.0,157.0 457.0,159.5 474.0,162.4 480.0,163.9 510.0,169.2 522.0,170.7 535.0,166.2 558.0,162.5" stroke="#00ff00"/>
<polyline points="74.0,56.4 108.0,69.2 119.0,72.3 125.0,71.8 130.0,70.4 137.0,67.2 138.0,66.9 139.0,67.2 158.0,77.0 170.0,83.8 184.0,93.8 191.0,98.3 196.0,100.0 207.0,102.0 219.0,105.7 227.0,106.9 232.0,108.8 240.0,112.8 246.0,115.2 276.0,122.1 346.0,136.0 407.0,146.3 424.0,148.3 438.0,148.9 457.0,151.4 474.0,154.0 480.0,155.5 510.0,160.4 521.0,161.9 523.0,162.0 535.0,159.2 558.0,156.9" stroke="#00ff00"/>
<polyline points="74.0,49.4 107.0,62.3 119.0,66.1 121.0,66.4 126.0,65.9 130.0,65.2 134.0,63.8 138.0,62.9 157.0,71.8 170.0,78.5 191.0,91.5 196.0,93.2 207.0,95.8 219.0,99.5 227.0,101.0 246.0,108.1 274.0,114.5 345.0,128.6 407.0,139.4 424.0,141.7 438.0,142.7 457.0,145.3 521.0,155.5 523.0,155.6 535.0,153.8 558.0,152.3" stroke="#00ff00"/>
<polyline points="74.0,43.9 107.0,57.1 119.0,61.2 121.0,61.6 125.0,61.4 138.0,59.4 157.0,67.8 170.0,74.1 191.0,86.1 219.0,94.4 227.0,96.2 246.0,102.6 274.0,109.0 345.0,123.1 407.0,133.9 424.0,136.5 438.0,137.8 474.0,142.8 480.0,144.1 521.0,150.4 535.0,149.4 558.0,148.5" stroke="#00ff00"/>
<polyline points="74.0,39.4 107.0,52.9 120.0,57.3 128.0,57.3 137.0,56.3 139.0,56.7 170.0,70.4 190.0,81.3 196.0,83.5 219.0,90.3 227.0,92.2 246.0,98.1 274.0,104.4 324.0,114.6 407.0,129.5 424.0,132.2 438.0,133.7 474.0,138.6 480.0,140.0 521.0,146.2 558.0,145.1" stroke="#00ff00"/>
<polyline points="74.0,35.6 107.0,49.2 120.0,53.8 127.0,54.1 137.0,53.5 139.0,54.0 170.0,67.1 190.0,77.6 196.0,79.7 208.0,83.5 227.0,88.7 241.0,93.0 268.0,99.3 324.0,110.8 424.0,128.6 474.0,135.1 480.0,136.4 522.0,142.7 558.0,142.2" stroke="#00ff00"/>
<polyline points="74.0,32.3 107.0,46.0 120.0,50.7 138.0,51.2 157.0,58.7 174.0,66.0 191.0,74.8 205.0,79.5 241.0,89.7 267.0,95.7 324.0,107.5 424.0,125.4 474.0,132.0 480.0,133.3 522.0,139.5 558.0,139.6" stroke="#00ff00"/>
<polyline points="74.0,29.4 107.0,43.2 120.0,48.0 138.0,49.0 157.0,56.3 174.0,63.4 191.0,71.9 207.0,77.4 241.0,86.8 258.0,90.8 324.0,104.6 424.0,122.5 474.0,129.2 480.0,130.5 522.0,136.7 558.0,137.2" stroke="#00ff00"/>
<polyline points="74.0,26.8 107.0,40.7 120.0,45.5 138.0,47.0 157.0,54.1 174.0,61.0 191.0,69.3 207.0,74.9 240.0,84.0 258.0,88.2 324.0,102.0 424.0,120.0 474.0,126.7 480.0,128.0 521.0,134.1 558.0,135.0" stroke="#00ff00"/>
</g>
<g fill="none" stroke="#000" stroke-width="1">
<path d="M74.5 3 V463.5 H580"/>
<path d="M74 3.5 H580 V463" stroke="#707070"/>
</g>
</svg>
<svg width="600" height="511" viewBox="0 0 600 511" style="will-change:transform">
<g font-family="Liberation Sans" font-size="18" stroke-width="0.8">
<g fill="#000" stroke="#000">
<text x="113.5" y="481.6">400</text>
<text x="226" y="481.6">600</text>
<text x="339.5" y="481.6">800</text>
<text x="447.5" y="481.6">1000</text>
<text x="560" y="481.6">1200</text>
<text x="38.5" y="66.3">10</text><text x="59" y="54" font-size="11.5">2</text>
<text x="38.5" y="181">10</text><text x="59.3" y="168.7" font-size="11.5">0</text>
<text x="38.5" y="296">10</text><text x="58.7" y="284" font-size="11.5">-2</text>
<text x="38.5" y="410.7">10</text><text x="58.7" y="397.8" font-size="11.5">-4</text>
<text x="259" y="505" font-size="17.5">Wavelength [nm]</text>
<text x="157.7" y="145.5">Yellow pigment</text>
<g transform="translate(20.8,0) rotate(-90)" font-size="17.5">
<text x="-350.9" y="0">Absorption coeff.</text>
<text x="-211.4" y="0">μ</text>
<text x="-197.2" y="9" font-size="13">a</text>
<text x="-183.8" y="0">[</text>
<text x="-177.7" y="0">cm</text>
<text x="-153.3" y="-9.6" font-size="11.5">-1</text>
<text x="-140.6" y="0">]</text>
</g>
</g>
<text x="269" y="189.8" fill="#22dd22" stroke="#22dd22" stroke-width="0.4">melanin</text>
<text x="393" y="203.5" fill="#ff00ff" stroke="#ff00ff" stroke-width="0.4">Fat</text>
<text x="157.6" y="278.6" fill="#d80000" stroke="#d80000" stroke-width="0.4">Blood</text>
<text x="394" y="352.6" fill="#0000e0" stroke="#0000e0" stroke-width="0.4">Water</text>
</g>

</svg>

</body></html>
